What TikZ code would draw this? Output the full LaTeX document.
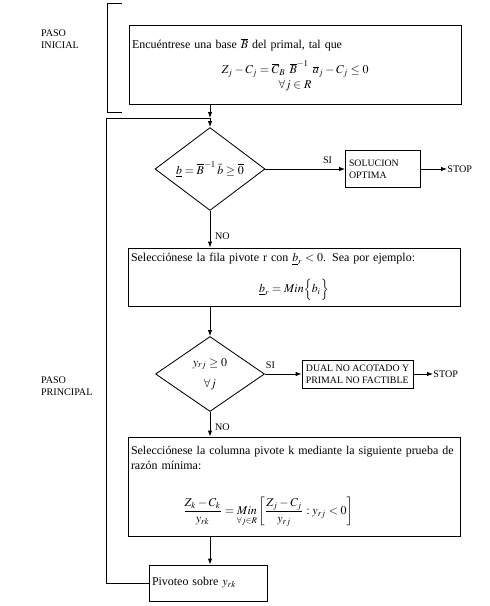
\documentclass[tikz,border=0pt]{standalone}
\usepackage{amsmath,amssymb}
\usepackage{mathptmx}
\usepackage{fontspec}
\setmainfont{Liberation Serif}
\usetikzlibrary{shapes.geometric,arrows.meta}

\begin{document}
\begin{tikzpicture}[
  box/.style={draw, rectangle, inner sep=2pt, font=\fontsize{8.5}{10.2}\selectfont},
  tag/.style={draw, rectangle, inner sep=2pt, align=left, font=\fontsize{7}{8.4}\selectfont},
  decision/.style={draw, diamond, inner sep=0pt, align=center, font=\fontsize{8.5}{10.2}\selectfont},
  small/.style={font=\fontsize{7.2}{8.6}\selectfont},
  flow/.style={-{Latex[length=1.5mm,width=1.1mm]}},
  line width=0.6pt]
\useasboundingbox (0,0) rectangle (12.225,-15.15);
\draw (3.05,-0.075) -- (2.675,-0.075) -- (2.675,-2.8) -- (3.05,-2.8);
\node[small, anchor=west, align=left] (inicial) at (0.9,-0.975) {PASO\\INICIAL};
\node[small, anchor=west, align=left] (principal) at (0.9,-9.65) {PASO\\PRINCIPAL};
\node[box, minimum width=8.3cm, minimum height=1.975cm, text width=8.15cm, align=left] (base) at (7.375,-1.6125)
  {Encuéntrese una base $\overline{B}$ del primal, tal que\\[6pt]
   \makebox[\hsize]{$Z_j - C_j = \overline{C}_B\;\,\overline{B}^{-1}\;\,\overline{a}_j - C_j \le 0$}\\
   \makebox[\hsize]{$\forall j \in R$}};
\coordinate (join) at (5.25,-2.95);
\coordinate (corner) at (2.65,-2.95);
\node[decision, minimum width=2.75cm, minimum height=1.775cm] (primal) at (5.25,-4.225)
  {$\underline{b} = \overline{B}^{-1}\,\bar{b} \ge \overline{0}$};
\node[tag, minimum width=1.875cm, minimum height=0.925cm, text width=1.7cm] (optima) at (9.575,-4.225)
  {SOLUCION\\OPTIMA};
\node[small, anchor=west, inner sep=0pt] (stopa) at (11.175,-4.225) {STOP};
\node[box, minimum width=8.3cm, minimum height=1.45cm, text width=8.15cm, align=left] (fila) at (7.35,-6.925)
  {Selecciónese la fila pivote r con $\underline{b}_r < 0$. Sea por ejemplo:\\[9pt]
   \makebox[\hsize]{$\underline{b}_r = Min\Big\{b_i\Big\}$}};
\node[decision, minimum width=2.725cm, minimum height=1.875cm] (dual) at (5.25,-9.35)
  {$y_{rj} \ge 0$\\[5pt]$\forall j$};
\node[tag, minimum width=2.775cm, minimum height=0.7cm, inner sep=1.5pt] (acotado) at (8.94,-9.35)
  {DUAL NO ACOTADO Y\\PRIMAL NO FACTIBLE};
\node[small, anchor=west, inner sep=0pt] (stopb) at (10.825,-9.35) {STOP};
\node[box, minimum width=8.3cm, minimum height=2.475cm, text width=8.15cm, align=left] (columna) at (7.35,-12.1625)
  {Selecciónese la columna pivote k mediante la siguiente prueba de\\razón mínima:\\[19pt]
   \makebox[\hsize]{$\dfrac{Z_k - C_k}{y_{rk}} = \underset{\forall j\in R}{Min}\left[\dfrac{Z_j - C_j}{y_{rj}} : y_{rj} < 0\right]$\hspace{1.3cm}}};
\node[box, minimum width=2.95cm, minimum height=0.9cm, text width=2.8cm, align=left] (pivoteo) at (5.2,-14.575)
  {Pivoteo sobre $y_{rk}$};
\draw[flow] (base.south -| join) -- (join);
\draw[flow] (join) -- (primal.north);
\draw[flow] (primal.east) -- node[small, pos=0.78, above] {SI} (optima.west);
\draw[flow] (optima.east) -- (stopa.west);
\draw[flow] (primal.south) -- node[small, pos=0.7, right] {NO} (primal.south |- fila.north);
\draw[flow] (fila.south -| dual.north) -- (dual.north);
\draw[flow] (dual.east) -- node[small, pos=0.15, above] {SI} (acotado.west);
\draw[flow] (acotado.east) -- (stopb.west);
\draw[flow] (dual.south) -- node[small, pos=0.6, right] {NO} (dual.south |- columna.north);
\draw[flow] (columna.south -| join) -- (pivoteo.north -| join);
\draw (pivoteo.west) -| (corner) -- (join);
\end{tikzpicture}
\end{document}
